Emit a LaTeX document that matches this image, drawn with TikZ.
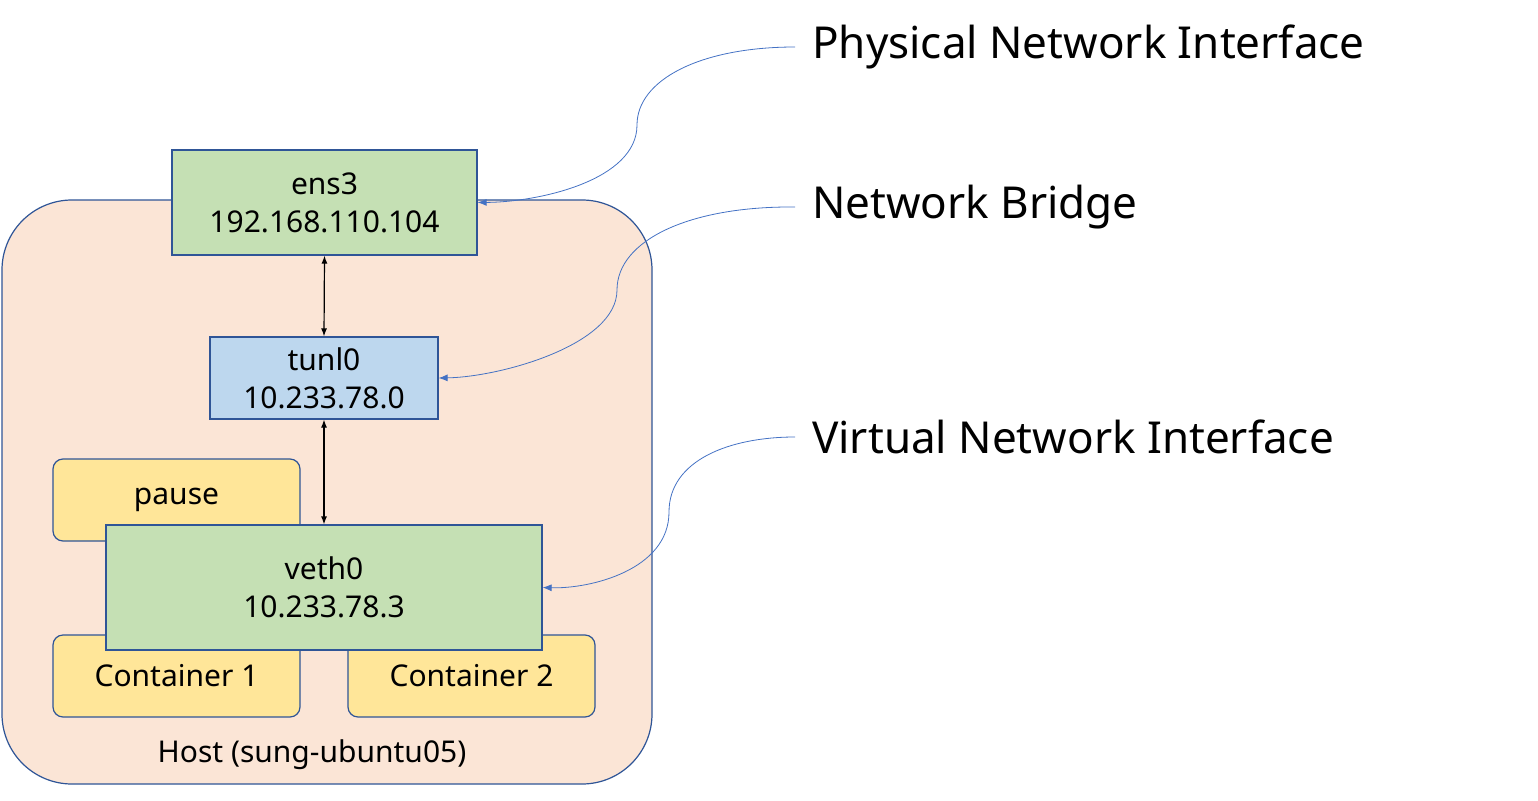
\documentclass[tikz,border=0pt]{standalone}
\usepackage{fontspec}
\setmainfont{Noto Sans}
\usetikzlibrary{arrows.meta}
\definecolor{hostf}{HTML}{FBE5D6}
\definecolor{bd}{HTML}{2F5597}
\definecolor{grn}{HTML}{C5E0B4}
\definecolor{blu}{HTML}{BDD7EE}
\definecolor{yel}{HTML}{FFE699}
\definecolor{ln}{HTML}{4472C4}
\begin{document}
\begin{tikzpicture}[x=1pt,y=-1pt,
 box/.style={draw=bd,line width=1.2pt,align=center,font=\fontsize{30}{38}\selectfont,inner sep=0pt},
 cont/.style={box,fill=yel,rounded corners=10pt},
 lbl/.style={anchor=west,font=\fontsize{44}{50}\selectfont,inner sep=0pt},
 conn/.style={ln,line width=0.8pt,-{Latex[length=9pt,width=7pt]}},
 dbl/.style={black,line width=1.2pt,{Latex[length=8pt,width=6pt]}-{Latex[length=8pt,width=6pt]}}]
\useasboundingbox (0,0) rectangle (1538,800);
\draw[draw=bd,fill=hostf,line width=1.2pt,rounded corners=70pt] (2,200) rectangle (652,784);
\node[font=\fontsize{30}{36}\selectfont] (host) at (312,755) {Host (sung-ubuntu05)};
\node[box,fill=grn,minimum width=305pt,minimum height=105pt] (ens) at (324.5,202.5) {ens3\\192.168.110.104};
\node[box,fill=blu,minimum width=228pt,minimum height=82pt] (tun) at (324,378) {tunl0\\10.233.78.0};
\node[cont,minimum width=247pt,minimum height=82pt,text depth=0pt] (pause) at (176.5,500) {};
\node[font=\fontsize{30}{36}\selectfont] at (176.5,500) {pause};
\node[cont,minimum width=247pt,minimum height=82pt] (c1) at (176.5,676) {Container 1};
\node[cont,minimum width=247pt,minimum height=82pt] (c2) at (471.5,676) {Container 2};
\node[box,fill=grn,minimum width=436pt,minimum height=125pt] (veth) at (324,587.5) {veth0\\10.233.78.3};
\draw[dbl] (ens.south) -- (tun.north);
\draw[dbl] (tun.south) -- (veth.north);
\node[lbl] (phy) at (812,47) {Physical Network Interface};
\node[lbl] (br) at (812,207) {Network Bridge};
\node[lbl] (vir) at (812,437) {Virtual Network Interface};
\draw[conn] ([xshift=-17pt]phy.west) .. controls (700,47) and (637,80) .. (637,125) .. controls (637,180) and (540,202) .. (ens.east);
\draw[conn] ([xshift=-17pt]br.west) .. controls (690,206) and (617,240) .. (617,290) .. controls (617,345) and (500,377) .. (tun.east);
\draw[conn] ([xshift=-17pt]vir.west) .. controls (730,437) and (669,460) .. (669,512) .. controls (669,570) and (590,589) .. (veth.east);
\end{tikzpicture}
\end{document}
